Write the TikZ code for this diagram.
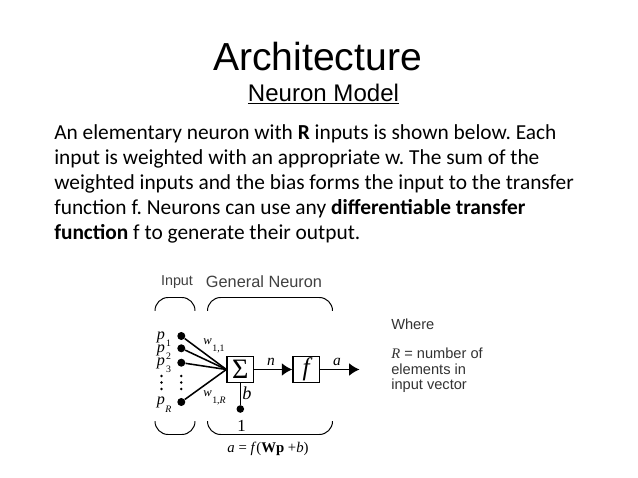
\documentclass[tikz,border=0pt]{standalone}
\usepackage{fontspec}
\usetikzlibrary{arrows.meta}
\setmainfont{Liberation Sans}
\newfontfamily\bodyfont{Carlito}
\newfontfamily\serifnote{Liberation Serif}

\begin{document}
\begin{tikzpicture}[
    x=0.025cm,
    y=-0.025cm,
    sumbox/.style={
        rectangle,
        draw,
        line width=1.1pt,
        minimum size=0.66cm,
        inner sep=0pt,
        font=\serifnote\fontsize{20}{20}\selectfont
    },
    indot/.style={
        circle,
        fill=black,
        inner sep=0pt,
        minimum size=0.2cm
    },
    sidedot/.style={
        circle,
        fill=black,
        inner sep=0pt,
        minimum size=0.07cm
    },
    headlabel/.style={
        font=\fontsize{10.2}{12}\selectfont,
        text=black!75
    },
    mathlabel/.style={
        font=\serifnote\itshape\fontsize{11}{11}\selectfont,
        inner sep=0pt
    },
    sublabel/.style={
        font=\serifnote\fontsize{7}{7}\selectfont,
        inner sep=0pt
    },
    wire/.style={
        line width=1.1pt
    },
    arrowwire/.style={
        line width=1.1pt,
        -{Latex[length=2.6mm,width=3.2mm]}
    },
    bracket/.style={
        line width=0.7pt,
        rounded corners=0.33cm
    }
]

\useasboundingbox (0,0) rectangle (638,478);
\fill[white] (0,0) rectangle (638,478);

\node[font=\fontsize{27.8}{30}\selectfont] (title) at (317.5,57) {Architecture};
\node[font=\fontsize{17.1}{18}\selectfont] (subtitle) at (323.5,94) {\underline{Neuron Model}};

\node[font=\bodyfont\fontsize{15.2}{17.8}\selectfont\frenchspacing, align=left, anchor=north west, inner sep=0pt] (bodytext) at (54,124.5) {
    An elementary neuron with \textbf{R} inputs is shown below. Each\\
    input is weighted with an appropriate w. The sum of the\\
    weighted inputs and the bias forms the input to the transfer\\
    function f. Neurons can use any \textbf{differentiable transfer}\\
    \textbf{function} f to generate their output.
};

\node[headlabel] (inputhead) at (177,282) {Input};
\node[headlabel, font=\fontsize{11.6}{12}\selectfont] (neuronhead) at (264,282) {General Neuron};

% brackets
\draw[bracket] (155,311) -- (155,297.5) -- (195,297.5) -- (195,311);
\draw[bracket] (207.5,311) -- (207.5,297.5) -- (332.5,297.5) -- (332.5,311);
\draw[bracket] (155,421) -- (155,434.5) -- (195,434.5) -- (195,421);
\draw[bracket] (207.5,421) -- (207.5,434.5) -- (332.5,434.5) -- (332.5,421);

% inputs
\node[indot] (p1) at (181.3,336) {};
\node[indot] (p2) at (181.3,348.3) {};
\node[indot] (p3) at (181.3,362.7) {};
\node[indot] (pR) at (181.3,402) {};

\node[sumbox] (sum) at (240.3,369.5) {Σ};
\node[sumbox, font=\serifnote\itshape\fontsize{18}{18}\selectfont] (transfer) at (306.2,369.5) {f};
\node[indot, minimum size=0.19cm] (bias) at (240.3,409) {};
\coordinate (output) at (359.5,369.5);

\draw[wire] (p1) -- (sum.west);
\draw[wire] (p2) -- (sum.west);
\draw[wire] (p3) -- (sum.west);
\draw[wire] (pR) -- (sum.west);
\draw[wire] (bias) -- (sum.south);
\draw[arrowwire] (sum) -- (transfer);
\draw[arrowwire] (transfer) -- (output);

\foreach \ypos/\dotname in {376/a, 382.5/b, 389/c} {
    \node[sidedot] (rdot\dotname) at (181.3,\ypos) {};
    \node[sidedot] (ldot\dotname) at (161.5,\ypos) {};
}

\foreach \ypos/\subtext in {337/1, 350/2, 363/3} {
    \node[mathlabel, font=\serifnote\itshape\fontsize{11.5}{11.5}\selectfont] (plab\subtext) at (161,\ypos) {p};
    \node[sublabel] (psub\subtext) at (168.5,\ypos+6) {\subtext};
}
\node[mathlabel, font=\serifnote\itshape\fontsize{11.5}{11.5}\selectfont] (plabR) at (161,402) {p};
\node[sublabel, font=\serifnote\itshape\fontsize{7}{7}\selectfont] (psubR) at (168.5,409) {R};

\node[mathlabel, font=\serifnote\itshape\fontsize{9}{9}\selectfont] (w11) at (207.5,342) {w};
\node[sublabel] (w11sub) at (218.5,349) {1,1};
\node[mathlabel, font=\serifnote\itshape\fontsize{9}{9}\selectfont] (w1R) at (207.5,394) {w};
\node[sublabel] (w1Rsub) at (219,401) {1,\textit{R}};
\node[mathlabel] (nlab) at (271,362) {n};
\node[mathlabel] (alab) at (337,362) {a};
\node[mathlabel, font=\serifnote\itshape\fontsize{13}{13}\selectfont] (blab) at (247,393) {b};
\node[mathlabel, font=\serifnote\fontsize{12}{12}\selectfont] (onelab) at (241.5,426) {1};
\node[mathlabel, font=\serifnote\fontsize{10.5}{10.5}\selectfont] (formula) at (268,449) {\textit{a} = \textit{f}(\textbf{Wp} +\textit{b})};

\node[font=\fontsize{10.4}{11}\selectfont, align=left, anchor=north west, inner sep=0pt, text=black!80] (wherenote) at (391,318.5) {
    Where\\[10pt]
    {\serifnote\itshape R} = number of\\
    elements in\\
    input vector
};

\end{tikzpicture}
\end{document}
